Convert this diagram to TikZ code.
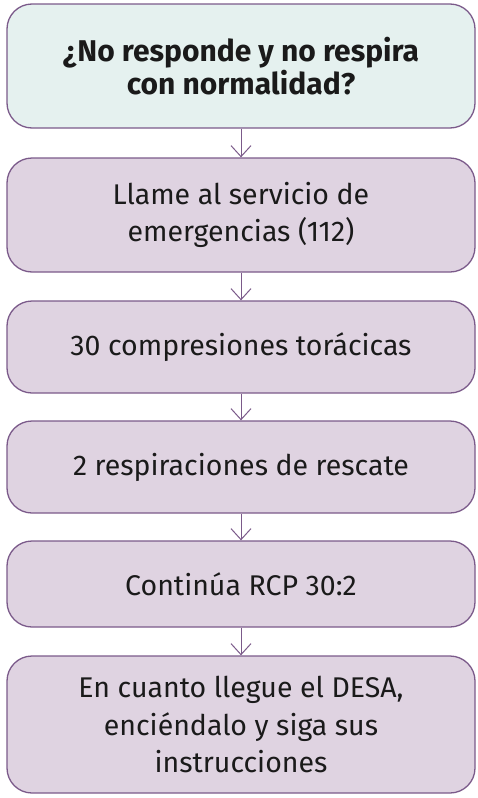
\documentclass[tikz,border=0pt]{standalone}
\usepackage{fontspec}
\setmainfont{Fira Sans}
\usetikzlibrary{arrows.meta}
\definecolor{bordc}{HTML}{7B5A8A}
\definecolor{tealf}{HTML}{E5F1EF}
\definecolor{mauvef}{HTML}{DFD3E1}
\definecolor{txtc}{HTML}{1A1A1A}
\tikzset{
  stepbox/.style={draw=bordc, line width=1.3pt, fill=mauvef, rounded corners=25pt,
    minimum width=468pt, align=center, inner sep=0pt, text=txtc,
    font=\fontsize{28.5}{37.5}\selectfont},
  headbox/.style={stepbox, fill=tealf, font=\fontsize{30}{33}\selectfont\bfseries},
  arr/.style={draw=bordc, line width=1pt, -{Straight Barb[length=11pt,width=20pt,line width=1pt]}}
}
\begin{document}
\begin{tikzpicture}[x=1pt,y=1pt]
\useasboundingbox (0,0) rectangle (478,-798);
\node[headbox, minimum height=124pt] (b1) at (241,-66) {¿No responde y no respira\\con normalidad?};
\node[stepbox, minimum height=114pt] (b2) at (241,-215) {Llame al servicio de\\emergencias (112)};
\node[stepbox, minimum height=92pt] (b3) at (241,-347) {30 compresiones torácicas};
\node[stepbox, minimum height=92pt] (b4) at (241,-467) {2 respiraciones de rescate};
\node[stepbox, minimum height=86pt] (b5) at (241,-584) {Continúa RCP 30:2};
\node[stepbox, minimum height=137pt] (b6) at (241,-724.5) {En cuanto llegue el DESA,\\enciéndalo y siga sus\\instrucciones};
\draw[arr] (b1) -- (b2);
\draw[arr] (b2) -- (b3);
\draw[arr] (b3) -- (b4);
\draw[arr] (b4) -- (b5);
\draw[arr] (b5) -- (b6);
\end{tikzpicture}
\end{document}
